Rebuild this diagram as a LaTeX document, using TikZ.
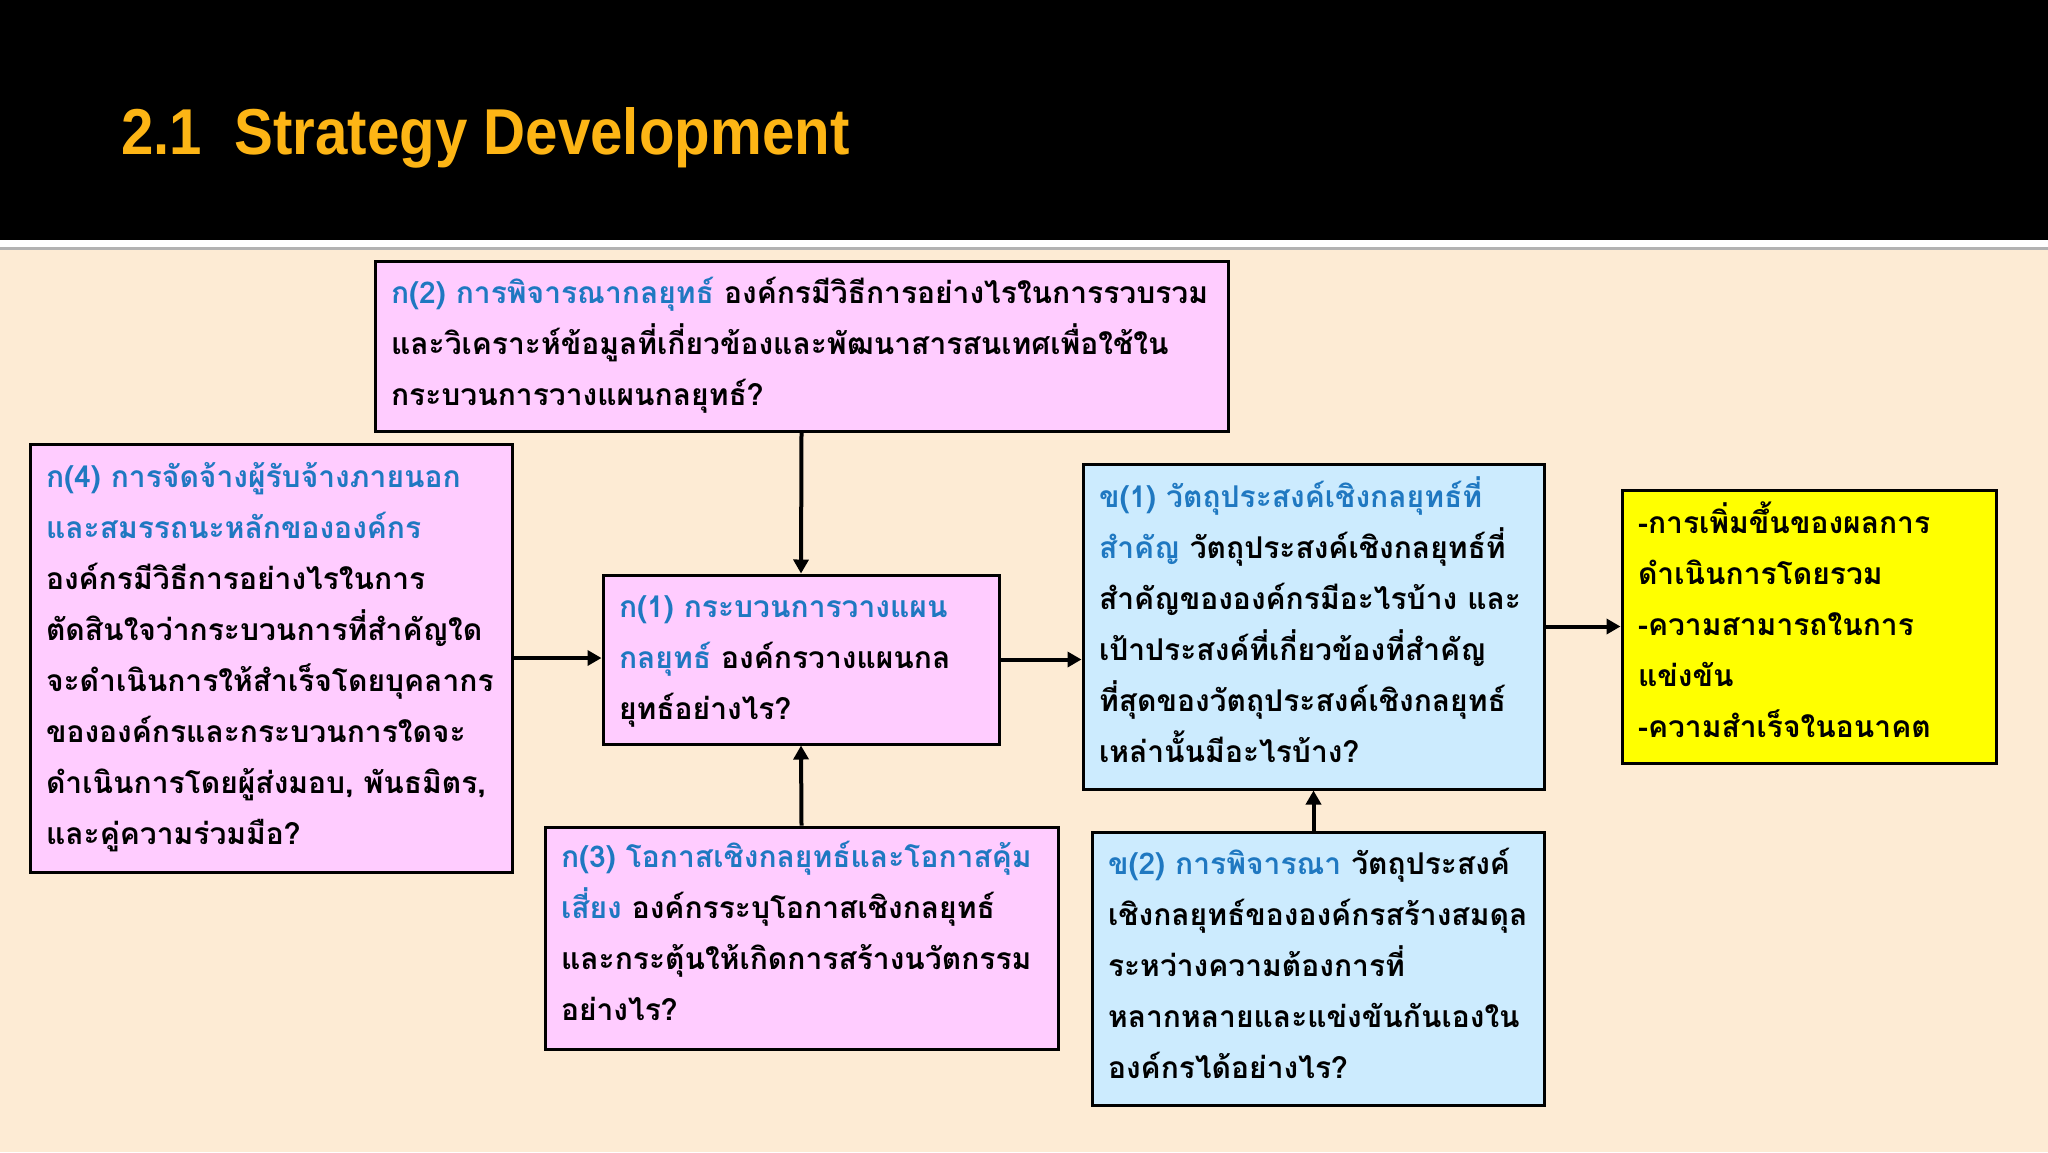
\documentclass[tikz,border=0pt]{standalone}
\usepackage{fontspec}
\usetikzlibrary{arrows.meta}
\newfontfamily\thaifont[Script=Thai]{Loma}
\newfontfamily\titlefont{Liberation Sans}
\definecolor{beige}{HTML}{FDEBD4}
\definecolor{pinkfill}{HTML}{FFCCFF}
\definecolor{bluefill}{HTML}{CCEBFE}
\definecolor{yellowfill}{HTML}{FFFF00}
\definecolor{thaiblue}{HTML}{1F78C1}
\definecolor{titleor}{HTML}{FDB515}
\newcommand{\bl}[1]{\textcolor{thaiblue}{#1}}
\newcommand{\boxtext}[2]{\raisebox{#1}[\height][\depth]{\begin{tabular}{@{}l@{}}#2\end{tabular}}}
\tikzset{
  x=0.5pt, y=-0.5pt,
  box/.style={draw=black, line width=1.5pt, align=left, inner xsep=8pt, inner ysep=0pt,
    font=\thaifont\bfseries\fontsize{15}{25.5}\selectfont, text=black},
  pinkbox/.style={box, fill=pinkfill},
  bluebox/.style={box, fill=bluefill},
  yellowbox/.style={box, fill=yellowfill},
  arr/.style={draw=black, line width=2pt, -{Triangle[length=7pt,width=7.5pt]}}
}
\begin{document}
\begin{tikzpicture}
\useasboundingbox (0,0) rectangle (2048,1152);
\fill[beige] (0,0) rectangle (2048,1152);
\fill[black] (0,0) rectangle (2048,240);
\fill[white] (0,240) rectangle (2048,247);
\fill[gray!60] (0,247) rectangle (2048,250);
\node[anchor=base west, inner sep=0pt, text=titleor] (title) at (121,154)
  {\resizebox{364pt}{23.5pt}{\titlefont\bfseries 2.1\ \ Strategy Development}};

\node[pinkbox, text width=410.5pt, minimum height=85pt] (k2) at (801.5,346)
  {\boxtext{0.7pt}{\bl{ก(2) การพิจารณากลยุทธ์} องค์กรมีวิธีการอย่างไรในการรวบรวม\\
   และวิเคราะห์ข้อมูลที่เกี่ยวข้องและพัฒนาสารสนเทศเพื่อใช้ใน\\
   กระบวนการวางแผนกลยุทธ์?}};

\node[pinkbox, text width=225pt, minimum height=214pt] (k4) at (271,658)
  {\boxtext{1.3pt}{\bl{ก(4) การจัดจ้างผู้รับจ้างภายนอก}\\
   \bl{และสมรรถนะหลักขององค์กร}\\
   องค์กรมีวิธีการอย่างไรในการ\\
   ตัดสินใจว่ากระบวนการที่สำคัญใด\\
   จะดำเนินการให้สำเร็จโดยบุคลากร\\
   ขององค์กรและกระบวนการใดจะ\\
   ดำเนินการโดยผู้ส่งมอบ, พันธมิตร,\\
   และคู่ความร่วมมือ?}};

\node[pinkbox, text width=182pt, minimum height=84.5pt] (k1) at (801,659.5)
  {\boxtext{0.6pt}{\bl{ก(1) กระบวนการวางแผน}\\
   \bl{กลยุทธ์} องค์กรวางแผนกล\\
   ยุทธ์อย่างไร?}};

\node[pinkbox, text width=240.5pt, minimum height=111pt] (k3) at (801.5,938)
  {\boxtext{2pt}{\bl{ก(3) โอกาสเชิงกลยุทธ์และโอกาสคุ้ม}\\
   \bl{เสี่ยง} องค์กรระบุโอกาสเชิงกลยุทธ์\\
   และกระตุ้นให้เกิดการสร้างนวัตกรรม\\
   อย่างไร?}};

\node[bluebox, text width=214.5pt, minimum height=162.5pt] (x1) at (1313.5,626.5)
  {\boxtext{1pt}{\bl{ข(1) วัตถุประสงค์เชิงกลยุทธ์ที่}\\
   \bl{สำคัญ} วัตถุประสงค์เชิงกลยุทธ์ที่\\
   สำคัญขององค์กรมีอะไรบ้าง และ\\
   เป้าประสงค์ที่เกี่ยวข้องที่สำคัญ\\
   ที่สุดของวัตถุประสงค์เชิงกลยุทธ์\\
   เหล่านั้นมีอะไรบ้าง?}};

\node[bluebox, text width=210pt, minimum height=136.5pt] (x2) at (1318,968.5)
  {\boxtext{1pt}{\bl{ข(2) การพิจารณา} วัตถุประสงค์\\
   เชิงกลยุทธ์ขององค์กรสร้างสมดุล\\
   ระหว่างความต้องการที่\\
   หลากหลายและแข่งขันกันเองใน\\
   องค์กรได้อย่างไร?}};

\node[yellowbox, text width=171pt, minimum height=136.5pt] (res) at (1809,626.5)
  {\boxtext{0.7pt}{-การเพิ่มขึ้นของผลการ\\
   ดำเนินการโดยรวม\\
   -ความสามารถในการ\\
   แข่งขัน\\
   -ความสำเร็จในอนาคต}};

\draw[arr] (k2.south) -- (k1.north);
\draw[arr] (k3.north) -- (k1.south);
\draw[arr] (k4.east) -- (k1.west |- k4.east);
\draw[arr] (k1.east) -- (x1.west |- k1.east);
\draw[arr] (x2.north -| x1.south) -- (x1.south);
\draw[arr] (x1.east) -- (res.west);
\end{tikzpicture}
\end{document}
